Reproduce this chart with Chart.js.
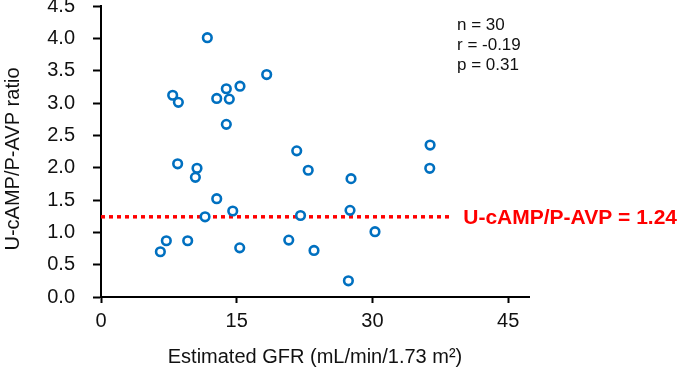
<!DOCTYPE html>
<html>
<head>
<meta charset="utf-8">
<script src="https://cdn.jsdelivr.net/npm/chart.js@4/dist/chart.umd.min.js"></script>
<style>
  html, body { margin: 0; padding: 0; background: #fff; }
  #wrap { position: relative; width: 685px; height: 371px; overflow: hidden; }
  #c { position: absolute; left: 0; }
</style>
</head>
<body>
<div id="wrap"><canvas id="c"></canvas></div>
<script>
// ---- data ----
const gfrValues = [11.75, 7.92, 8.55, 12.79, 13.85, 14.18, 15.36, 18.31, 13.85, 21.63,
                   8.47, 10.61, 10.43, 12.79, 14.56, 11.5, 7.22, 6.56, 9.58, 15.33,
                   20.75, 22.05, 22.9, 27.63, 36.33, 36.37, 27.52, 30.28, 23.54, 27.34];
const ratioValues = [4.01, 3.12, 3.01, 3.07, 3.22, 3.06, 3.26, 3.44, 2.67, 2.26,
                     2.06, 1.99, 1.85, 1.52, 1.33, 1.24, 0.87, 0.70, 0.87, 0.76,
                     0.88, 1.26, 1.96, 1.83, 1.99, 2.35, 1.34, 1.01, 0.72, 0.25];
const cutoffValue = 1.24;
const cutoffLineX = [0, 38.6];
const cutoffLabel = 'U-cAMP/P-AVP = 1.24';
const statsLines = ['n = 30', 'r = -0.19', 'p = 0.31'];
const xTickValues = [0, 15, 30, 45];
const xTitle = 'Estimated GFR (mL/min/1.73 m\u00B2)';
const yTitle = 'U-cAMP/P-AVP ratio';

const FONT = "'Liberation Sans', Arial, sans-serif";
const T = 24; // canvas shift upward so the top tick label is clipped like the reference
const canvas = document.getElementById('c');
canvas.width = 685; canvas.height = 371 + T;
canvas.style.top = (-T) + 'px';

const points = gfrValues.map((x, i) => ({ x: x, y: ratioValues[i] }));
const cutoffLine = cutoffLineX.map(x => ({ x: x, y: cutoffValue }));

const annotPlugin = {
  id: 'annot',
  afterDatasetsDraw(chart) {
    const ctx = chart.ctx;
    const xs = chart.scales.x, ys = chart.scales.y;
    ctx.save();
    ctx.fillStyle = '#ff0000';
    ctx.font = 'bold 21px ' + FONT;
    ctx.textAlign = 'left';
    ctx.textBaseline = 'middle';
    ctx.fillText(cutoffLabel, xs.getPixelForValue(cutoffLineX[1]) + 13, ys.getPixelForValue(cutoffValue) + 1);
    ctx.fillStyle = '#111';
    ctx.font = '17px ' + FONT;
    ctx.textBaseline = 'top';
    statsLines.forEach((s, i) => ctx.fillText(s, 457, 17 + T + i * 20));
    // y-axis title
    ctx.translate(13, 159 + T);
    ctx.rotate(-Math.PI / 2);
    ctx.font = '20px ' + FONT;
    ctx.textAlign = 'center';
    ctx.textBaseline = 'middle';
    ctx.fillText(yTitle, 0, 0);
    ctx.restore();
  }
};

new Chart(canvas, {
  type: 'scatter',
  data: {
    datasets: [
      {
        label: 'ratio',
        data: points,
        order: 0,
        pointStyle: 'circle',
        pointRadius: 4.3,
        pointBorderWidth: 2.6,
        pointBorderColor: '#0070C0',
        pointBackgroundColor: '#ffffff',
        showLine: false
      },
      {
        label: 'cutoff',
        type: 'line',
        data: cutoffLine,
        order: 1,
        borderColor: '#ff0000',
        borderWidth: 3.5,
        borderDash: [4, 4],
        borderCapStyle: 'butt',
        pointRadius: 0,
        fill: false
      }
    ]
  },
  options: {
    responsive: false,
    animation: false,
    devicePixelRatio: 1,
    layout: { padding: { left: 0, right: 156, top: 0, bottom: 0 } },
    plugins: { legend: { display: false }, tooltip: { enabled: false } },
    scales: {
      x: {
        type: 'linear',
        min: 0,
        max: 47.3,
        afterBuildTicks: (s) => { s.ticks = xTickValues.map(v => ({ value: v })); },
        afterFit: (s) => { s.height = 74; },
        border: { display: true, color: '#000', width: 2 },
        grid: { drawOnChartArea: false, drawTicks: true, tickLength: 6, tickColor: '#000', tickWidth: 2 },
        ticks: { color: '#111', font: { family: FONT, size: 20 }, padding: 6, maxRotation: 0 },
        title: { display: true, text: xTitle, color: '#111', font: { family: FONT, size: 20 }, padding: { top: 2, bottom: 2 } }
      },
      y: {
        type: 'linear',
        min: 0,
        max: 4.5,
        afterFit: (s) => { s.width = 101; },
        border: { display: true, color: '#000', width: 2 },
        grid: { drawOnChartArea: false, drawTicks: true, tickLength: 8, tickColor: '#000', tickWidth: 2 },
        ticks: { stepSize: 0.5, color: '#111', font: { family: FONT, size: 20 }, padding: 18,
                 callback: (v) => Number(v).toFixed(1) },
        title: { display: false, text: yTitle }
      }
    }
  },
  plugins: [annotPlugin]
});
</script>
</body>
</html>
